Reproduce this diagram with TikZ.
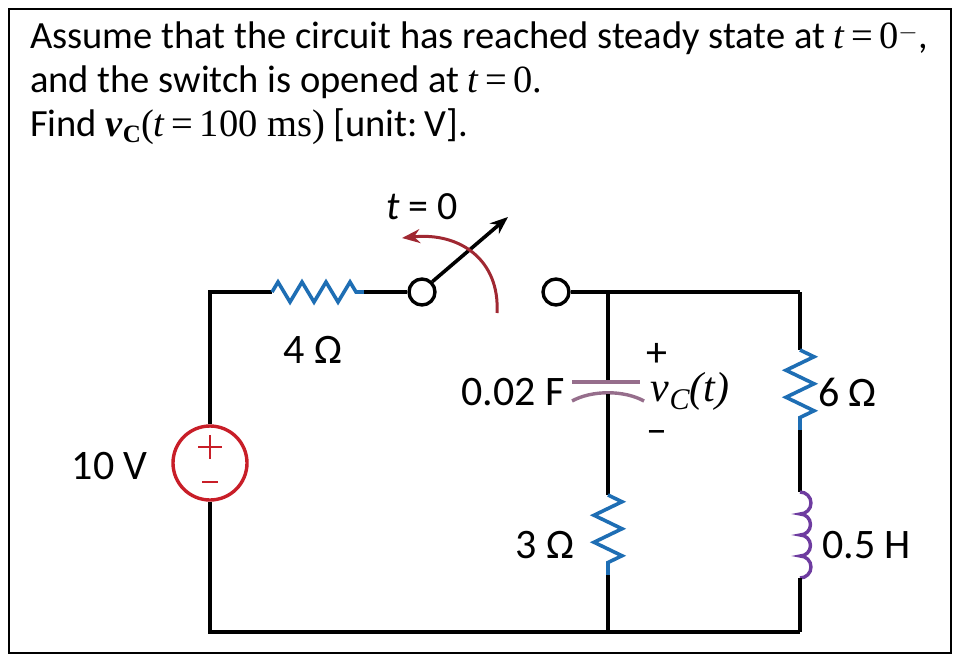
\documentclass[tikz,border=0pt]{standalone}
\usepackage{fontspec}
\setmainfont{Carlito}
\newfontfamily\tmr{Liberation Serif}
\usetikzlibrary{arrows.meta,decorations.pathmorphing}
\definecolor{rblue}{RGB}{30,110,180}
\definecolor{rred}{RGB}{200,30,40}
\definecolor{arcred}{RGB}{160,40,50}
\definecolor{cpurp}{RGB}{150,110,140}
\definecolor{lpurp}{RGB}{110,60,160}
\begin{document}
\begin{tikzpicture}[x=1pt,y=-1pt,
  wire/.style={line width=3.6pt,black},
  res/.style={line width=3.6pt,rblue,decorate,decoration={zigzag,segment length=24pt,amplitude=10pt}},
  term/.style={circle,draw,line width=3.4pt,fill=white,minimum size=26pt,inner sep=0},
  lbl/.style={font=\fontsize{42}{44}\selectfont,inner sep=0}]
\useasboundingbox (0,0) rectangle (960,662);
\draw[line width=2pt] (9,9) rectangle (951,653);
\node[anchor=north west,align=left,font=\fontsize{38.5}{44}\selectfont,inner sep=0] (txt) at (30,22)
 {Assume that the circuit has reached steady state at {\tmr\itshape t}\,{\tmr =}\,{\tmr 0}$^{-}$,\\
  and the switch is opened at {\tmr\itshape t}\,{\tmr =}\,{\tmr 0.}\\
  Find {\tmr\bfseries\itshape v}\raisebox{-6pt}{\tmr\bfseries\fontsize{25}{25}\selectfont C}{\tmr(\textit{t}\,=\,100 ms)} [unit:\,V].};
\coordinate (tl) at (210,292); \coordinate (bl) at (210,632);
\coordinate (r4a) at (272,292); \coordinate (r4b) at (364,292);
\node[term] (s1) at (422,292) {};
\node[term] (s2) at (556,292) {};
\coordinate (tm) at (608,292); \coordinate (tr) at (800,292);
\coordinate (bm) at (608,632); \coordinate (br) at (800,632);
\node[circle,draw=rred,line width=3.4pt,minimum size=74pt,inner sep=0] (src) at (210,463) {};
\draw[rred,line width=2.6pt] (198,447) -- (222,447) (210,435) -- (210,459);
\draw[rred,line width=2.6pt] (202,482) -- (218,482);
\draw[wire] (src.north) -- (tl) -- (r4a);
\draw[res] (r4a) -- (r4b);
\draw[wire] (r4b) -- (s1.west);
\draw[wire] (s2.east) -- (tr);
\draw[wire] (src.south) -- (bl) -- (br);
\draw[wire,-{Stealth[length=18pt,width=14pt]}] (s1.north east) -- (508,217);
\draw[arcred,line width=3pt,-{Stealth[length=18pt,width=14pt]}] (497,313) .. controls (500,260) and (460,232) .. (402,238);
\coordinate (c1) at (608,382); \coordinate (c2) at (608,394);
\draw[wire] (tm) -- (c1);
\draw[cpurp,line width=3.4pt] (572,382) -- (640,382);
\draw[cpurp,line width=3.4pt] (572,401) .. controls (592,390) and (624,390) .. (644,401);
\draw[wire] (c2) -- (608,495);
\coordinate (r3a) at (608,495); \coordinate (r3b) at (608,575);
\draw[res,decoration={zigzag,segment length=27pt,amplitude=14pt}] (r3a) -- (r3b);
\draw[wire] (r3b) -- (bm);
\coordinate (r6a) at (800,350); \coordinate (r6b) at (800,430);
\draw[wire] (tr) -- (r6a);
\draw[res,decoration={zigzag,segment length=27pt,amplitude=14pt}] (r6a) -- (r6b);
\coordinate (la) at (800,492); \coordinate (lb) at (800,578);
\draw[wire] (r6b) -- (la);
\draw[lpurp,line width=3.4pt] (la) arc[start angle=90,end angle=-90,radius=11pt]
  arc[start angle=90,end angle=-90,radius=10.5pt] arc[start angle=90,end angle=-90,radius=10.5pt]
  arc[start angle=90,end angle=-90,radius=11pt];
\draw[wire] (lb) -- (br);
\node[lbl] (l4) at (313,350) {4 Ω};
\node[lbl,font=\fontsize{40}{40}\selectfont] (lt) at (422,207) {\textit{t} = 0};
\node[lbl,anchor=east] (l10) at (148,466) {10 V};
\node[lbl,anchor=east] (lc) at (565,392) {0.02 F};
\node[lbl] (lp) at (657,355) {+};
\node[lbl,font=\fontsize{42}{42}\selectfont] (lv) at (690,391) {\tmr\itshape v\raisebox{-8pt}{\fontsize{30}{30}\selectfont C}(t)};
\node[lbl] (lm) at (657,437) {--};
\node[lbl] (l3) at (545,545) {3 Ω};
\node[lbl,anchor=west] (l6) at (818,392) {6 Ω};
\node[lbl,anchor=west] (l5) at (822,545) {0.5 H};
\end{tikzpicture}
\end{document}
